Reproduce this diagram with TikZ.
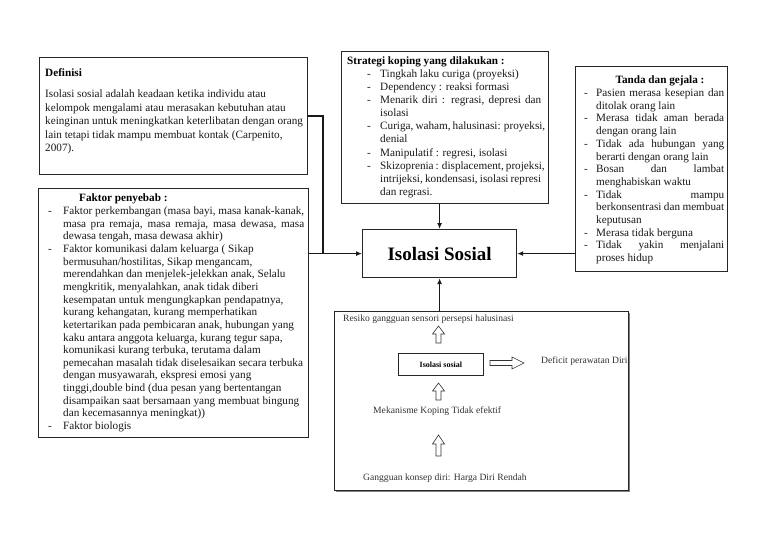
\documentclass[tikz,border=0pt]{standalone}
\usepackage{fontspec}
\setmainfont{Liberation Serif}
\usetikzlibrary{arrows.meta,shadows}
\newlength{\jw}
\newcommand{\J}[1]{\makebox[\jw][s]{#1}}
\begin{document}
\begin{tikzpicture}[x=1pt,y=-1pt,
  box/.style={draw=black!85, line width=0.9pt, anchor=north west, inner sep=0pt, fill=white},
  conn/.style={line width=1.3pt, draw=black!90},
  tip/.style={-{Latex[length=6pt,width=5pt]}},
  body/.style={anchor=base west, inner sep=0pt, text=black!90},
  head/.style={anchor=base west, inner sep=0pt, font=\fontsize{11.2}{13.5}\selectfont\bfseries},
  small/.style={anchor=base west, inner sep=0pt, text=black!80, font=\fontsize{9.6}{11}\selectfont},
  hollow/.style={draw=black!80, line width=0.6pt, fill=white}]
\useasboundingbox (0,0) rectangle (768,543);

% boxes
\node[box, minimum width=268, minimum height=117] (def) at (39,57) {};
\node[box, minimum width=270, minimum height=249] (fak) at (38,188) {};
\node[box, minimum width=207, minimum height=152] (str) at (341,51) {};
\node[box, minimum width=152, minimum height=205] (tan) at (575,66) {};
\node[box, line width=1.2pt, minimum width=154, minimum height=48, font=\fontsize{19}{22}\selectfont\bfseries] (main) at (362,229) {Isolasi Sosial};
\node[box, minimum width=294, minimum height=179, drop shadow={shadow xshift=1.6pt, shadow yshift=-1.6pt, fill=black!50, opacity=1}] (bot) at (334,311) {};

% Definisi
\node[head] (deft) at (45,76.5) {Definisi};
\node[body, font=\fontsize{11.2}{13.5}\selectfont] (defb) at (45,97.5) {\begin{tabular}[t]{@{}l@{}}
Isolasi sosial adalah keadaan ketika individu atau\\
kelompok mengalami atau merasakan kebutuhan atau\\
keinginan untuk meningkatkan keterlibatan dengan orang\\
lain tetapi tidak mampu membuat kontak (Carpenito,\\
2007).\end{tabular}};

% Faktor penyebab
\node[head] (fakt) at (79,201.5) {Faktor penyebab :};
\node[body, font=\fontsize{11.2}{12.65}\selectfont] (fakb) at (48,214.5) {\setlength{\jw}{241pt}\begin{tabular}[t]{@{}p{15pt}@{}l@{}}
- & \J{Faktor perkembangan (masa bayi, masa kanak-kanak,}\\
  & \J{masa pra remaja, masa remaja, masa dewasa, masa}\\
  & dewasa tengah, masa dewasa akhir)\\
- & Faktor komunikasi dalam keluarga ( Sikap\\
  & bermusuhan/hostilitas, Sikap mengancam,\\
  & merendahkan dan menjelek-jelekkan anak, Selalu\\
  & mengkritik, menyalahkan, anak tidak diberi\\
  & kesempatan untuk mengungkapkan pendapatnya,\\
  & kurang kehangatan, kurang memperhatikan\\
  & ketertarikan pada pembicaran anak, hubungan yang\\
  & kaku antara anggota keluarga, kurang tegur sapa,\\
  & komunikasi kurang terbuka, terutama dalam\\
  & pemecahan masalah tidak diselesaikan secara terbuka\\
  & dengan musyawarah, ekspresi emosi yang\\
  & tinggi,double bind (dua pesan yang bertentangan\\
  & disampaikan saat bersamaan yang membuat bingung\\
  & dan kecemasannya meningkat))\\
- & Faktor biologis\end{tabular}};

% Strategi koping
\node[head] (strt) at (347,64.5) {Strategi koping yang dilakukan :};
\node[body, font=\fontsize{11.2}{13.1}\selectfont] (strb) at (367,77.5) {\setlength{\jw}{161pt}\begin{tabular}[t]{@{}p{13pt}@{}l@{}}
- & Tingkah laku curiga (proyeksi)\\
- & Dependency : reaksi formasi\\
- & \J{Menarik diri : regrasi, depresi dan}\\
  & isolasi\\
- & \J{Curiga, waham, halusinasi: proyeksi,}\\
  & denial\\
- & Manipulatif : regresi, isolasi\\
- & \J{Skizoprenia : displacement, projeksi,}\\
  & \J{intrijeksi, kondensasi, isolasi represi}\\
  & dan regrasi.\end{tabular}};

% Tanda dan gejala
\node[head, anchor=base] (tant) at (660,83.5) {Tanda dan gejala :};
\node[body, font=\fontsize{11.2}{12.7}\selectfont] (tanb) at (584,96.5) {\setlength{\jw}{128pt}\begin{tabular}[t]{@{}p{12pt}@{}l@{}}
- & \J{Pasien merasa kesepian dan}\\
  & ditolak orang lain\\
- & \J{Merasa tidak aman berada}\\
  & dengan orang lain\\
- & \J{Tidak ada hubungan yang}\\
  & berarti dengan orang lain\\
- & \J{Bosan dan lambat}\\
  & menghabiskan waktu\\
- & \J{Tidak mampu}\\
  & \J{berkonsentrasi dan membuat}\\
  & keputusan\\
- & Merasa tidak berguna\\
- & \J{Tidak yakin menjalani}\\
  & proses hidup\end{tabular}};

% bottom panel
\node[small] (res) at (343,321) {Resiko gangguan sensori persepsi halusinasi};
\node[box, line width=0.8pt, minimum width=85, minimum height=22, font=\fontsize{8}{9}\selectfont\bfseries] (iso) at (398,353) {Isolasi sosial};
\node[small] (def2) at (541,363) {Deficit perawatan Diri};
\node[small] (mek) at (373,413) {Mekanisme Koping Tidak efektif};
\node[small] (gan) at (363,480) {Gangguan konsep diri: Harga Diri Rendah};

% hollow block arrows
\draw[hollow, shift={(438.5,343)}] (-2.5,0) -- (-2.5,-9) -- (-6,-9) -- (0,-17) -- (6,-9) -- (2.5,-9) -- (2.5,0) -- cycle;
\draw[hollow, shift={(438.5,400)}] (-2.5,0) -- (-2.5,-9) -- (-6,-9) -- (0,-17) -- (6,-9) -- (2.5,-9) -- (2.5,0) -- cycle;
\draw[hollow, shift={(438.5,456)}] (-2.5,0) -- (-2.5,-12) -- (-6,-12) -- (0,-21) -- (6,-12) -- (2.5,-12) -- (2.5,0) -- cycle;
\draw[hollow, shift={(490,363)}] (0,-2.5) -- (22,-2.5) -- (22,-6) -- (34,0) -- (22,6) -- (22,2.5) -- (0,2.5) -- cycle;

% connectors
\coordinate (j) at (323,0);
\draw[conn,tip] (def.east) -- (def.east -| j) |- (main.west);
\draw[conn] (fak.east |- main.west) -- (main.west -| j);
\draw[conn,tip] (str.south -| main.north) -- (main.north);
\draw[conn,tip] (tan.west |- main.east) -- (main.east);
\draw[conn,tip] (bot.north -| main.south) -- (main.south);
\end{tikzpicture}
\end{document}
